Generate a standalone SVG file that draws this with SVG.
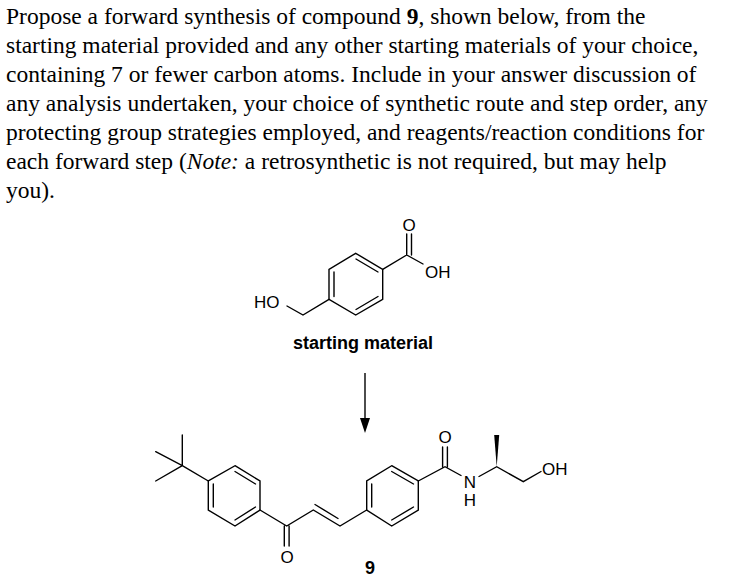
<svg xmlns="http://www.w3.org/2000/svg" width="749" height="586" viewBox="0 0 749 586">
<defs><style>
.p{font-family:"Liberation Serif",serif;font-size:23.5px;fill:#000}
.b{stroke:#000;stroke-width:1.4;fill:none;stroke-linecap:round}
.a{font-family:"Liberation Sans",Arial,sans-serif;font-size:17px;fill:#000}
.l{font-family:"Liberation Sans",Arial,sans-serif;font-size:18px;font-weight:bold;fill:#000}
</style></defs>
<rect width="749" height="586" fill="#fff"/>
<g id="question">
<text class="p" x="6" y="24">Propose a forward synthesis of compound <tspan font-weight="bold">9</tspan>, shown below, from the</text>
<text class="p" x="6" y="53">starting material provided and any other starting materials of your choice,</text>
<text class="p" x="6" y="82">containing 7 or fewer carbon atoms. Include in your answer discussion of</text>
<text class="p" x="6" y="111">any analysis undertaken, your choice of synthetic route and step order, any</text>
<text class="p" x="6" y="140">protecting group strategies employed, and reagents/reaction conditions for</text>
<text class="p" x="6" y="169">each forward step (<tspan font-style="italic">Note:</tspan> a retrosynthetic is not required, but may help</text>
<text class="p" x="6" y="198">you).</text>
</g>
<g id="starting-material">
<path class="b" d="M355.7,253.3 L382.7,269.3 L382.7,299.3 L355.7,315 L329,299.3 L329,269.3 Z"/>
<path class="b" d="M334,272 L334,296.5 M356,259 L378,272 M378,296.5 L356,309.5"/>
<path class="b" d="M382.7,269.3 L406.7,255 L423,264 M406.7,255 L406.7,234 M411.5,255 L411.5,234 M329,299.3 L303,315 L287,306"/>
<text class="a" x="409" y="231" text-anchor="middle">O</text>
<text class="a" x="425" y="278">OH</text>
<text class="a" x="254" y="308">HO</text>
<text class="l" x="363" y="349" text-anchor="middle">starting material</text>
</g>
<g id="connectors">
<line x1="365" y1="373" x2="365" y2="420" stroke="#000" stroke-width="1.4"/>
<path d="M360,418 L370,418 L365,433 Z" fill="#000"/>
</g>
<g id="compound-9">
<path class="b" d="M182.3,435 L182.3,465.7 L155.7,451.7 M182.3,465.7 L155.7,481 M182.3,465.7 L208.3,481"/>
<path class="b" d="M235,465.7 L260,481 L260,510 L235,526 L208.3,510 L208.3,481 Z"/>
<path class="b" d="M213.3,484 L213.3,507 M235,471.5 L255.5,484 M255.5,507 L235,520"/>
<path class="b" d="M260,510 L286.7,526 L313.3,510 L340,526 L366.7,510 M284.3,526 L284.3,546 M289.1,526 L289.1,546 M315,504.5 L338,518.5"/>
<path class="b" d="M391.7,465.7 L418.3,481 L418.3,510 L391.7,526 L366.7,510 L366.7,481 Z"/>
<path class="b" d="M371.7,484 L371.7,507 M391.7,471.5 L413.5,484 M413.5,507 L391.7,520"/>
<path class="b" d="M418.3,481 L445,466.7 L461,475.5 M442.6,466.7 L442.6,447 M447.4,466.7 L447.4,447 M479,476.5 L496.7,466.7 L523.3,481.7 L541,471.5"/>
<path d="M496.7,466.7 L494.2,435 L499.2,435 Z" fill="#000"/>
<text class="a" x="445" y="443" text-anchor="middle">O</text>
<text class="a" x="470" y="488" text-anchor="middle">N</text>
<text class="a" x="470" y="506" text-anchor="middle">H</text>
<text class="a" x="542" y="475">OH</text>
<text class="a" x="287" y="563" text-anchor="middle">O</text>
<text class="l" x="370" y="574" text-anchor="middle">9</text>
</g>
</svg>
